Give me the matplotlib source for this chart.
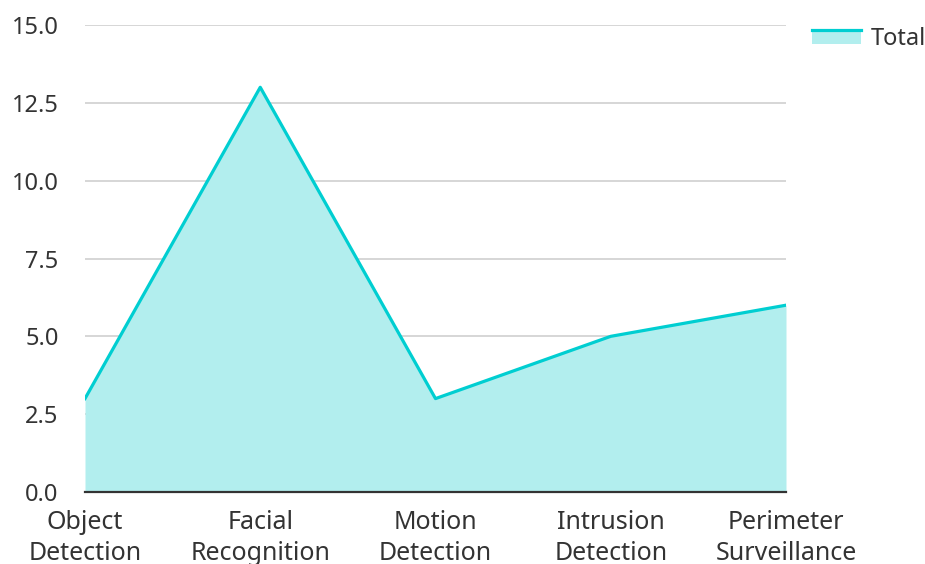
import matplotlib
matplotlib.use("Agg")
import matplotlib.pyplot as plt
from matplotlib.patches import Rectangle
from matplotlib.lines import Line2D
from matplotlib.legend_handler import HandlerBase

categories = ["Object\nDetection", "Facial\nRecognition", "Motion\nDetection",
              "Intrusion\nDetection", "Perimeter\nSurveillance"]
values = [3, 13, 3, 5, 6]
yticks = [0, 2.5, 5, 7.5, 10, 12.5, 15]
ytick_labels = ["0.0", "2.5", "5.0", "7.5", "10.0", "12.5", "15.0"]

plt.rcParams['font.family'] = ['Noto Sans', 'DejaVu Sans']

line_color = "#00CED1"
fill_color = "#B2EEEE"
text_color = "#333333"
fs = 17

fig = plt.figure(figsize=(9.25, 5.64), dpi=100)
ax = fig.add_axes([85/925, 1 - 492/564, (786-85)/925, (492-25)/564])

x = list(range(len(categories)))
ax.fill_between(x, values, 0, color=fill_color, linewidth=0, zorder=2)
ax.plot(x, values, color=line_color, linewidth=2.3, zorder=3)

ax.set_xlim(0, len(categories) - 1)
ax.set_ylim(0, 15)
ax.set_yticks(yticks)
ax.set_yticklabels(ytick_labels)
ax.set_xticks(x)
ax.set_xticklabels(categories, linespacing=1.3, fontsize=18)

ax.grid(axis='y', color="#cccccc", linewidth=1.1, zorder=1)
ax.set_axisbelow(True)
for s in ['top', 'right', 'left']:
    ax.spines[s].set_visible(False)
ax.spines['bottom'].set_color("#333333")
ax.spines['bottom'].set_linewidth(1.6)
ax.spines['bottom'].set_zorder(4)
ax.tick_params(axis='both', length=0, colors=text_color)
ax.tick_params(axis='y', pad=19, labelsize=fs)
ax.tick_params(axis='x', pad=13)


class AreaHandler(HandlerBase):
    def create_artists(self, legend, orig_handle, xdescent, ydescent, width, height, fontsize, trans):
        r = Rectangle((-xdescent, -ydescent), width, height, facecolor=fill_color,
                      edgecolor='none', transform=trans)
        l = Line2D([-xdescent, -xdescent + width], [-ydescent + height - 1.2, -ydescent + height - 1.2],
                   color=line_color, linewidth=2.3, transform=trans)
        return [r, l]


handle = Rectangle((0, 0), 1, 1)
leg = fig.legend([handle], ["Total"], handler_map={Rectangle: AreaHandler()},
                 loc='upper left', bbox_to_anchor=(807/925, 1 - 22/564),
                 frameon=False, fontsize=fs, handlelength=2.1, handleheight=0.65,
                 handletextpad=0.4, borderaxespad=0, borderpad=0.2)
for t in leg.get_texts():
    t.set_color(text_color)

fig.savefig("out.png", dpi=100)
